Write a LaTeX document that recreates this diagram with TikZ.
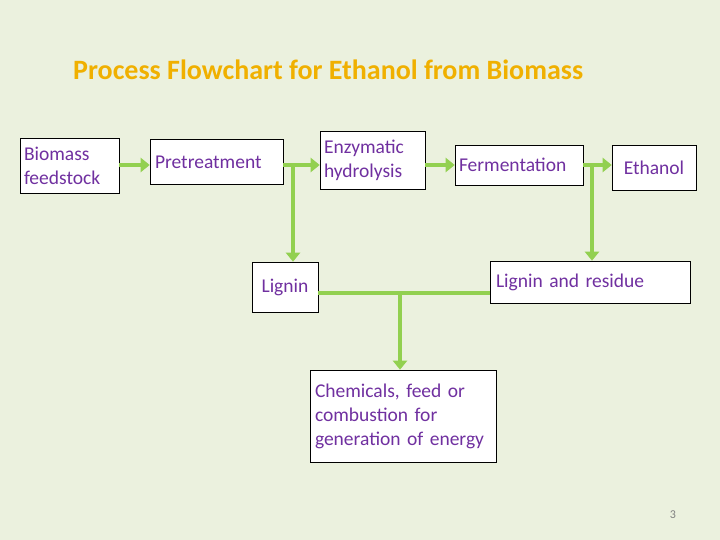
\documentclass[tikz,border=0pt]{standalone}
\usepackage{fontspec}
\setmainfont{Carlito}
\usetikzlibrary{arrows.meta}
\definecolor{bg}{HTML}{EBF1DE}
\definecolor{ttl}{HTML}{F0B000}
\definecolor{txt}{HTML}{7030A0}
\definecolor{arr}{HTML}{92D050}
\begin{document}
\begin{tikzpicture}[x=1pt,y=-1pt,
  box/.style={draw=black,fill=white,line width=0.6pt,text=txt,font=\fontsize{19.5}{24}\selectfont,
    align=left,inner sep=4pt},
  flow/.style={draw=arr,line width=3.5pt,-{Triangle[length=9pt,width=14pt]}},
  link/.style={draw=arr,line width=3.5pt}]
\fill[bg] (0,0) rectangle (720,540);
\useasboundingbox (0,0) rectangle (720,540);
\node[text=ttl,font=\bfseries\fontsize{28}{33}\selectfont,anchor=west,inner sep=0pt] (title) at (73,70) {Process Flowchart for Ethanol from Biomass};
\node[box,minimum width=99pt,minimum height=55pt,text width=91pt] (bio) at (69.5,165.5) {Biomass\\feedstock};
\node[box,minimum width=133pt,minimum height=45pt,text width=123pt] (pre) at (216.5,162) {Pretreatment};
\node[box,minimum width=105pt,minimum height=58pt,text width=97pt] (enz) at (372.5,160) {Enzymatic\\hydrolysis};
\node[box,minimum width=128pt,minimum height=40pt,text width=120pt] (fer) at (519,165) {Fermentation};
\node[box,minimum width=84pt,minimum height=45pt,align=center] (eth) at (654,167.5) {Ethanol};
\node[box,minimum width=66pt,minimum height=50pt,align=center] (lig) at (285,287) {Lignin};
\node[box,minimum width=200pt,minimum height=42pt,text width=188pt,inner sep=6pt] (res) at (590,282) {Lignin and residue};
\node[box,minimum width=186pt,minimum height=92pt,text width=176pt,inner sep=5pt] (chem) at (403,416) {Chemicals, feed or\\combustion for\\generation of energy};
\node[text=gray,font=\fontsize{12}{14}\selectfont] (pg) at (673,515) {3};
\draw[flow] (bio.east |- 0,165) -- (pre.west |- 0,165);
\draw[flow] (pre.east |- 0,165) -- (enz.west |- 0,165);
\draw[flow] (enz.east |- 0,165) -- (fer.west |- 0,165);
\draw[flow] (fer.east |- 0,165) -- (eth.west |- 0,165);
\coordinate (pd) at (293,165);
\draw[flow] (pd) -- (pd |- lig.north);
\coordinate (fd) at (592,165);
\draw[flow] (fd) -- (fd |- res.north);
\coordinate (jn) at (400,293);
\draw[link] (lig.east |- jn) -- (res.west |- jn);
\draw[flow] (jn) -- (jn |- chem.north);
\end{tikzpicture}
\end{document}
